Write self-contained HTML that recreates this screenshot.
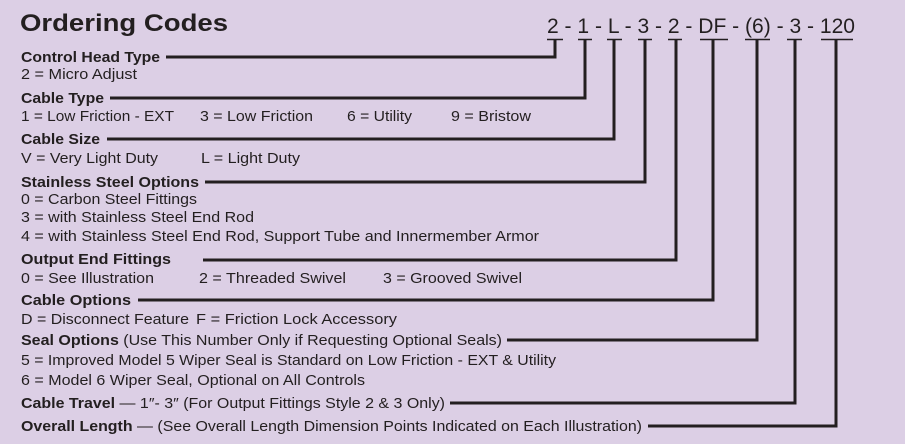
<!DOCTYPE html>
<html><head><meta charset="utf-8"><style>
html,body{margin:0;padding:0;background:#dccfe5;}
svg{display:block;}
text{font-family:"Liberation Sans",sans-serif;fill:#231f20;}
.h{font-weight:bold;font-size:15px;}
.t{font-size:15px;}
</style></head><body>
<svg width="905" height="444" viewBox="0 0 905 444" xmlns="http://www.w3.org/2000/svg">
<rect width="905" height="444" fill="#dccfe5"/>
<text x="20" y="31" font-size="24" font-weight="bold" textLength="208" lengthAdjust="spacingAndGlyphs">Ordering Codes</text>
<text x="547" y="33" font-size="21" textLength="308" lengthAdjust="spacingAndGlyphs">2 - 1 - L - 3 - 2 - DF - (6) - 3 - 120</text>
<g stroke="#231f20" stroke-width="1.5">
<line x1="547" y1="39.5" x2="563" y2="39.5"/><line x1="578" y1="39.5" x2="592" y2="39.5"/>
<line x1="607" y1="39.5" x2="622" y2="39.5"/><line x1="638" y1="39.5" x2="652" y2="39.5"/>
<line x1="668" y1="39.5" x2="682" y2="39.5"/><line x1="700" y1="39.5" x2="728" y2="39.5"/>
<line x1="745" y1="39.5" x2="770" y2="39.5"/><line x1="787" y1="39.5" x2="802" y2="39.5"/>
<line x1="821" y1="39.5" x2="853" y2="39.5"/>
</g>
<g stroke="#231f20" stroke-width="3" fill="none">
<polyline points="166,57 555,57 555,40"/>
<polyline points="110,98 585,98 585,40"/>
<polyline points="107,139 614,139 614,40"/>
<polyline points="205,182 645,182 645,40"/>
<polyline points="203,260 676,260 676,40"/>
<polyline points="138,300 713,300 713,40"/>
<polyline points="507,340 757,340 757,40"/>
<polyline points="450,403 795,403 795,40"/>
<polyline points="648,426 836,426 836,40"/>
</g>
<text class="h" x="21" y="62" textLength="139" lengthAdjust="spacingAndGlyphs">Control Head Type</text>
<text class="t" x="21" y="79" textLength="116" lengthAdjust="spacingAndGlyphs">2 = Micro Adjust</text>
<text class="h" x="21" y="103" textLength="83" lengthAdjust="spacingAndGlyphs">Cable Type</text>
<text class="t" x="21" y="121" textLength="153" lengthAdjust="spacingAndGlyphs">1 = Low Friction - EXT</text>
<text class="t" x="200" y="121" textLength="113" lengthAdjust="spacingAndGlyphs">3 = Low Friction</text>
<text class="t" x="347" y="121" textLength="65" lengthAdjust="spacingAndGlyphs">6 = Utility</text>
<text class="t" x="451" y="121" textLength="80" lengthAdjust="spacingAndGlyphs">9 = Bristow</text>
<text class="h" x="21" y="144" textLength="79" lengthAdjust="spacingAndGlyphs">Cable Size</text>
<text class="t" x="21" y="163" textLength="137" lengthAdjust="spacingAndGlyphs">V = Very Light Duty</text>
<text class="t" x="201" y="163" textLength="99" lengthAdjust="spacingAndGlyphs">L = Light Duty</text>
<text class="h" x="21" y="187" textLength="178" lengthAdjust="spacingAndGlyphs">Stainless Steel Options</text>
<text class="t" x="21" y="204" textLength="176" lengthAdjust="spacingAndGlyphs">0 = Carbon Steel Fittings</text>
<text class="t" x="21" y="222" textLength="233" lengthAdjust="spacingAndGlyphs">3 = with Stainless Steel End Rod</text>
<text class="t" x="21" y="241" textLength="518" lengthAdjust="spacingAndGlyphs">4 = with Stainless Steel End Rod, Support Tube and Innermember Armor</text>
<text class="h" x="21" y="264" textLength="150" lengthAdjust="spacingAndGlyphs">Output End Fittings</text>
<text class="t" x="21" y="283" textLength="133" lengthAdjust="spacingAndGlyphs">0 = See Illustration</text>
<text class="t" x="199" y="283" textLength="147" lengthAdjust="spacingAndGlyphs">2 = Threaded Swivel</text>
<text class="t" x="383" y="283" textLength="139" lengthAdjust="spacingAndGlyphs">3 = Grooved Swivel</text>
<text class="h" x="21" y="305" textLength="110" lengthAdjust="spacingAndGlyphs">Cable Options</text>
<text class="t" x="21" y="324" textLength="168" lengthAdjust="spacingAndGlyphs">D = Disconnect Feature</text>
<text class="t" x="196" y="324" textLength="201" lengthAdjust="spacingAndGlyphs">F = Friction Lock Accessory</text>
<text x="21" y="345" font-size="15" textLength="481" lengthAdjust="spacingAndGlyphs"><tspan font-weight="bold">Seal Options</tspan> (Use This Number Only if Requesting Optional Seals)</text>
<text class="t" x="21" y="365" textLength="535" lengthAdjust="spacingAndGlyphs">5 = Improved Model 5 Wiper Seal is Standard on Low Friction - EXT &amp; Utility</text>
<text class="t" x="21" y="385" textLength="344" lengthAdjust="spacingAndGlyphs">6 = Model 6 Wiper Seal, Optional on All Controls</text>
<text x="21" y="408" font-size="15" textLength="424" lengthAdjust="spacingAndGlyphs"><tspan font-weight="bold">Cable Travel</tspan> — 1″- 3″ (For Output Fittings Style 2 &amp; 3 Only)</text>
<text x="21" y="431" font-size="15" textLength="621" lengthAdjust="spacingAndGlyphs"><tspan font-weight="bold">Overall Length</tspan> — (See Overall Length Dimension Points Indicated on Each Illustration)</text>
</svg>
</body></html>
